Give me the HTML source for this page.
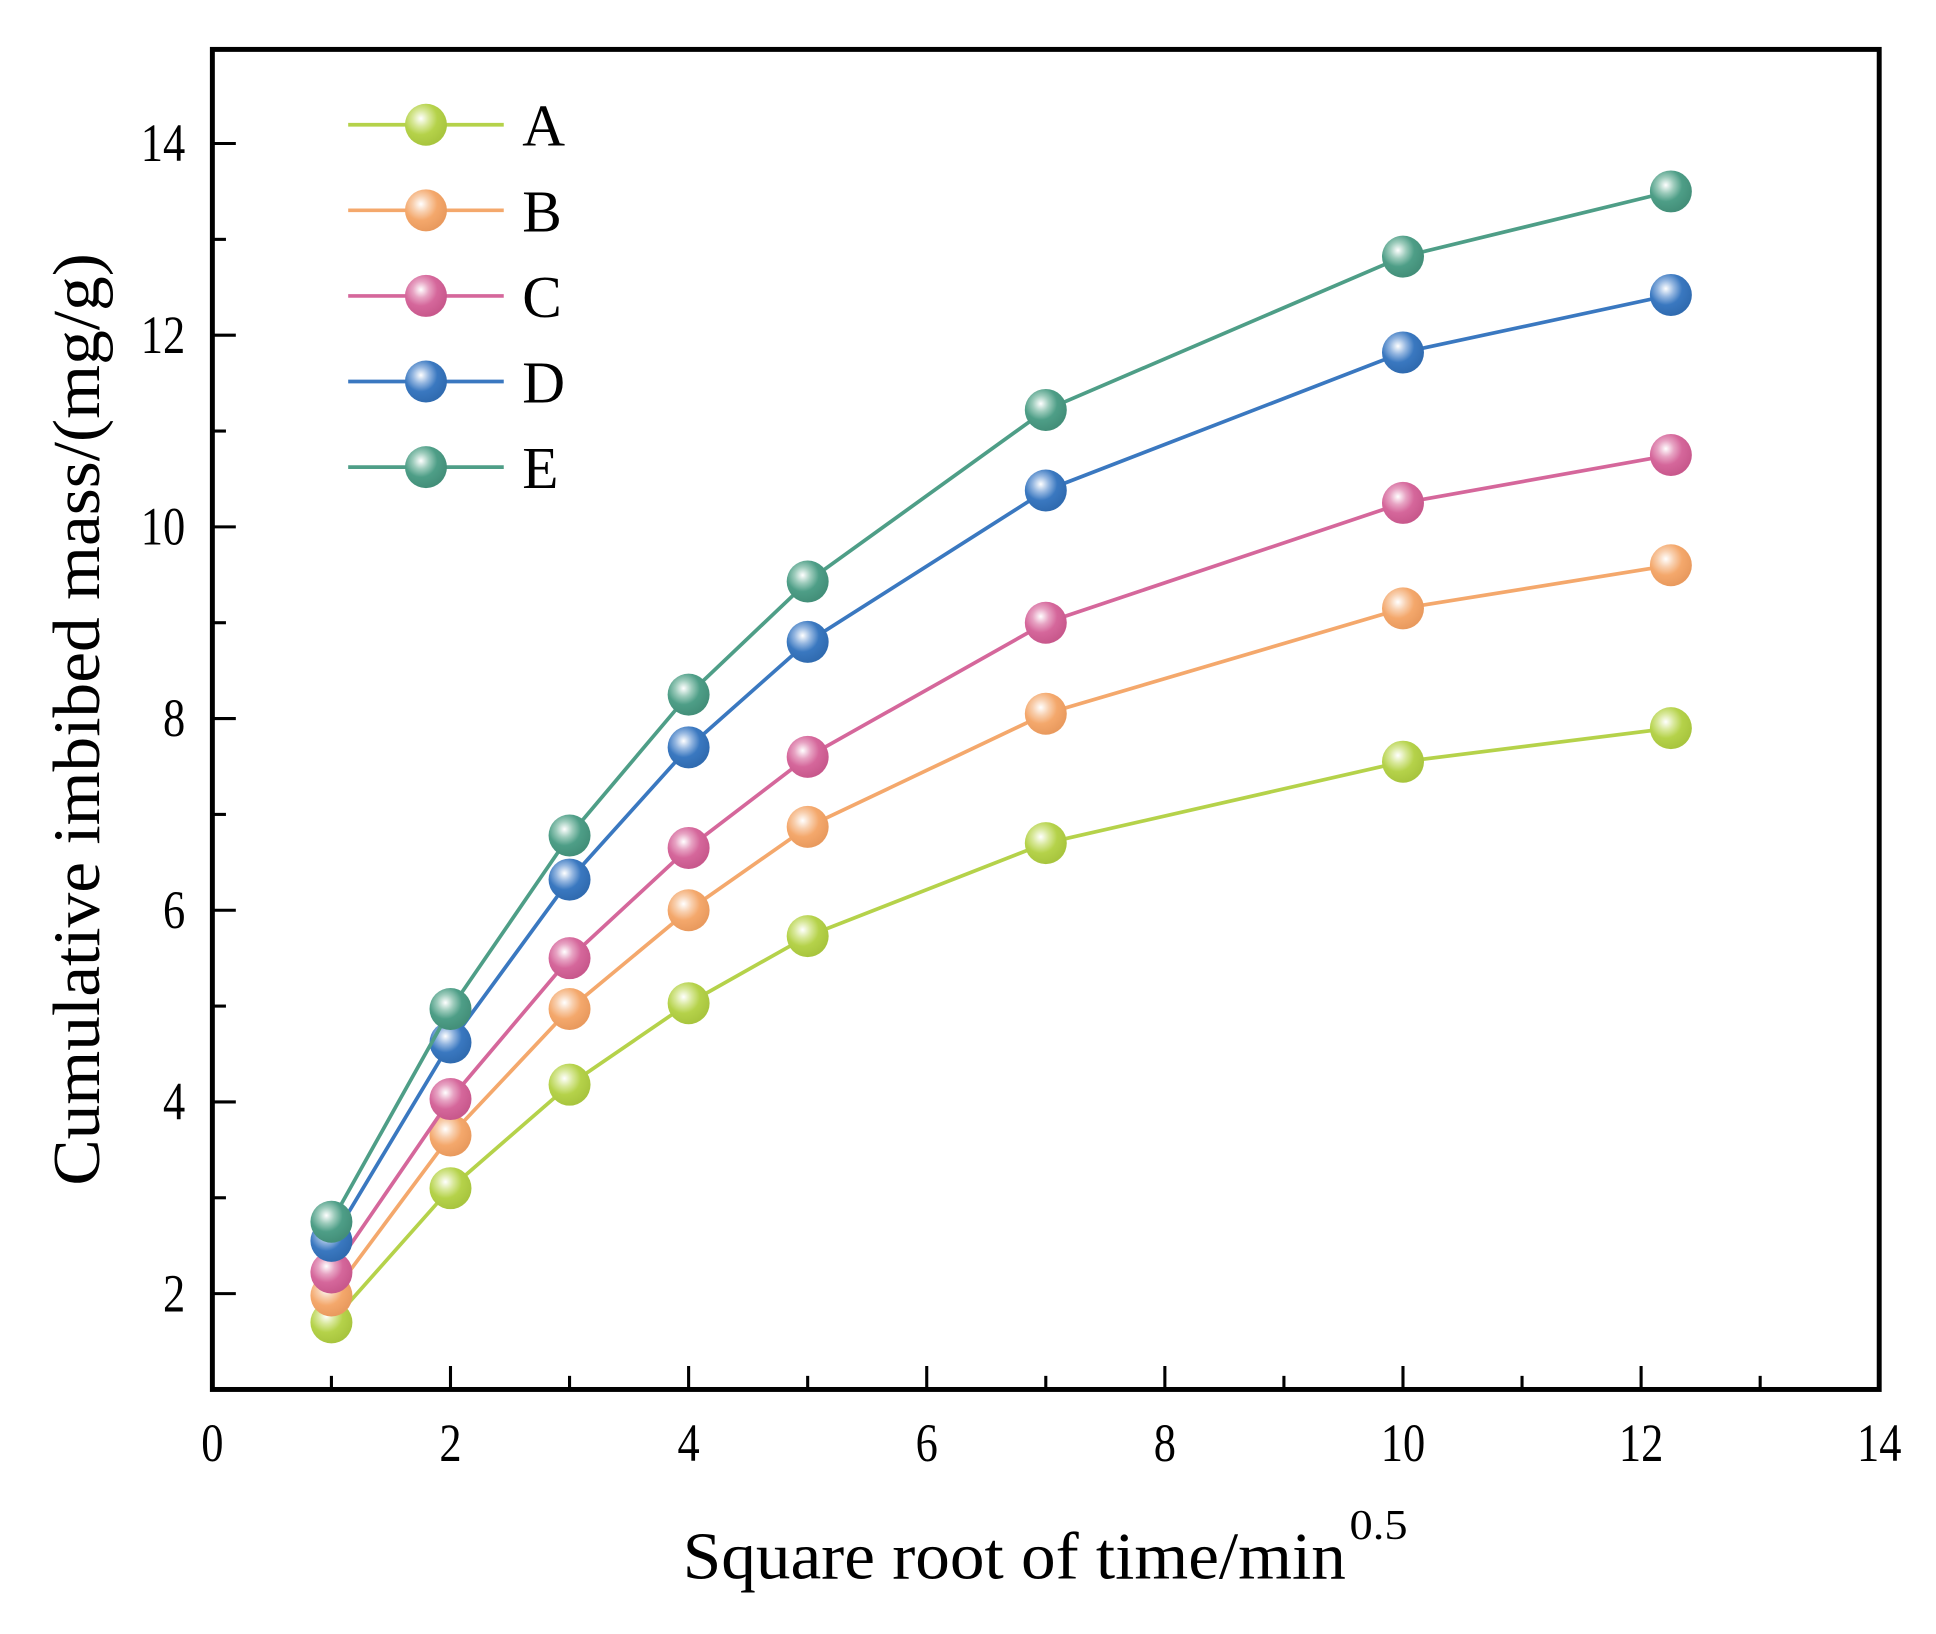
<!DOCTYPE html>
<html><head><meta charset="utf-8"><style>html,body{margin:0;padding:0;background:#fff}svg{display:block}</style></head>
<body>
<svg width="1936" height="1634" viewBox="0 0 1568 1323" preserveAspectRatio="none" xmlns="http://www.w3.org/2000/svg" font-family="Liberation Serif, serif">
<defs>
<radialGradient id="gA" cx="0.38" cy="0.35" r="0.65"><stop offset="0" stop-color="#fff"/><stop offset="0.3" stop-color="#d8e89a"/><stop offset="0.6" stop-color="#b5d24a"/><stop offset="1" stop-color="#a8c53e"/></radialGradient>
<radialGradient id="gB" cx="0.38" cy="0.35" r="0.65"><stop offset="0" stop-color="#fff"/><stop offset="0.3" stop-color="#f8cfae"/><stop offset="0.6" stop-color="#f4a86c"/><stop offset="1" stop-color="#e99a5e"/></radialGradient>
<radialGradient id="gC" cx="0.38" cy="0.35" r="0.65"><stop offset="0" stop-color="#fff"/><stop offset="0.3" stop-color="#e7a3c3"/><stop offset="0.6" stop-color="#d5679b"/><stop offset="1" stop-color="#c8588c"/></radialGradient>
<radialGradient id="gD" cx="0.38" cy="0.35" r="0.65"><stop offset="0" stop-color="#fff"/><stop offset="0.3" stop-color="#94b6e0"/><stop offset="0.6" stop-color="#3a78c0"/><stop offset="1" stop-color="#306bb0"/></radialGradient>
<radialGradient id="gE" cx="0.38" cy="0.35" r="0.65"><stop offset="0" stop-color="#fff"/><stop offset="0.3" stop-color="#9ccbbb"/><stop offset="0.6" stop-color="#4e9e87"/><stop offset="1" stop-color="#438f79"/></radialGradient>
</defs>
<g id="plot"></g>
<script>
const ns="http://www.w3.org/2000/svg",g=document.getElementById('plot');
function el(t,a,txt){const e=document.createElementNS(ns,t);for(const k in a)e.setAttribute(k,a[k]);if(txt!==undefined)e.textContent=txt;g.appendChild(e);return e;}
const X=v=>172+v*96.43, Y=v=>1125-(v-1)*77.6;
for(let v=1;v<=13;v++){const maj=v%2==0;el('line',{x1:X(v),x2:X(v),y1:1125,y2:1125-(maj?19:11),stroke:'#000','stroke-width':2.5});}
for(let v=2;v<=14;v++){const maj=v%2==0;el('line',{x1:172,x2:172+(maj?19:11),y1:Y(v),y2:Y(v),stroke:'#000','stroke-width':2.5});}
el('rect',{x:172,y:40,width:1350,height:1085,fill:'none',stroke:'#000','stroke-width':4});
for(let v=0;v<=14;v+=2)el('text',{x:X(v),y:1183,'font-size':40,'text-anchor':'middle',transform:`translate(${X(v)},1183) scale(0.9,1.1) translate(${-X(v)},-1183)`},v);
for(let v=2;v<=14;v+=2)el('text',{x:150,y:Y(v)+13,'font-size':40,'text-anchor':'end',transform:`translate(150,${Y(v)}) scale(0.9,1.1) translate(-150,${-Y(v)})`},v);
el('text',{x:553,y:1278,'font-size':54,textLength:537,lengthAdjust:'spacingAndGlyphs'},'Square root of time/min');
el('text',{x:1093,y:1246,'font-size':34,textLength:47,lengthAdjust:'spacingAndGlyphs'},'0.5');
el('text',{x:0,y:0,'font-size':54,textLength:755,lengthAdjust:'spacingAndGlyphs',transform:'translate(80,960) rotate(-90)'},'Cumulative imbibed mass/(mg/g)');
const xs=[1,2,3,4,5,7,10,12.25];
const S=[['A','#b5d24a',[1.7,3.1,4.18,5.03,5.73,6.7,7.55,7.9]],
['B','#f4a86c',[1.98,3.65,4.97,6.0,6.87,8.05,9.15,9.6]],
['C','#d5679b',[2.22,4.03,5.5,6.65,7.6,9.0,10.25,10.75]],
['D','#3a78c0',[2.55,4.62,6.32,7.7,8.8,10.38,11.82,12.42]],
['E','#4e9e87',[2.75,4.97,6.78,8.25,9.43,11.22,12.82,13.5]]];
S.forEach((s,i)=>{
 el('polyline',{points:xs.map((x,j)=>X(x)+','+Y(s[2][j])).join(' '),fill:'none',stroke:s[1],'stroke-width':3});
 xs.forEach((x,j)=>el('circle',{cx:X(x),cy:Y(s[2][j]),r:17,fill:'url(#g'+s[0]+')'}));
 const ly=101+i*69.3;
 el('line',{x1:282,x2:408,y1:ly,y2:ly,stroke:s[1],'stroke-width':3});
 el('circle',{cx:345,cy:ly,r:17,fill:'url(#g'+s[0]+')'});
 el('text',{x:423,y:ly+17,'font-size':48},s[0]);
});
</script>
</svg>
</body></html>
